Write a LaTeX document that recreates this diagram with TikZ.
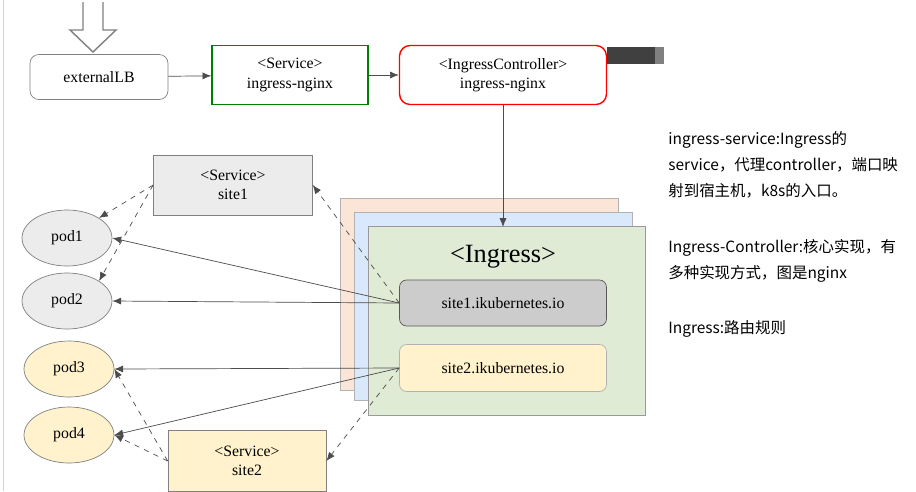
\documentclass[tikz,border=0pt]{standalone}
\usepackage{fontspec}
\newfontfamily\cjk{Noto Sans CJK SC}
\newfontfamily\ser{Liberation Serif}
\usetikzlibrary{arrows.meta,shapes.geometric}
\definecolor{ylw}{HTML}{FFF2CC}
\definecolor{lblue}{HTML}{DAE8FC}
\definecolor{lgreen}{HTML}{DFEBD5}
\definecolor{lorange}{HTML}{FBE5D6}
\begin{document}
\begin{tikzpicture}[x=0.02cm,y=-0.02cm,
  box/.style={draw=gray!70!black,font=\ser\fontsize{9}{11}\selectfont,align=center,inner sep=0},
  pod/.style={ellipse,draw=gray,minimum width=1.8cm,minimum height=1.12cm,font=\ser\fontsize{9}{11}\selectfont,inner sep=0},
  arr/.style={-{Latex[length=5pt,width=4pt]},draw=black!70},
  darr/.style={arr,dashed,draw=black!70}]
\useasboundingbox (0,0) rectangle (916,491);
\fill[white] (0,0) rectangle (916,491);
\draw[blue!20] (3,0)--(3,491);
% hollow arrow
\draw[gray,thick,fill=white] (83,2)--(83,30)--(70,30)--(93,52)--(116,30)--(103,30)--(103,2);
\node[box,rounded corners=5pt,minimum width=2.76cm,minimum height=0.9cm,draw=gray] (elb) at (99,77) {externalLB};
\node[box,draw=green!50!black,thick,minimum width=3.12cm,minimum height=1.18cm] (svc) at (290,75) {<Service>\\ingress-nginx};
\node[box,draw=red,thick,rounded corners=6pt,minimum width=4.14cm,minimum height=1.18cm] (ic) at (503,75) {<IngressController>\\ingress-nginx};
\fill[black!75] (607,47) rectangle (655,64);
\fill[gray] (655,47) rectangle (664,64);
\draw[arr] (elb) -- (svc);
\draw[arr] (svc) -- (ic);
% ingress stack
\draw[gray!60,fill=lorange] (340,198) rectangle (618,390);
\draw[gray!60,fill=lblue] (354,212) rectangle (632,400);
\draw[gray!80,fill=lgreen] (368,226) rectangle (645,415);
\coordinate (ingtop) at (503,227);
\draw[arr] (ic.south) -- (ingtop);
\node[font=\ser\fontsize{15}{17}\selectfont] (ing) at (503,257) {<Ingress>};
\node[box,rounded corners=4pt,fill=gray!40,minimum width=4.14cm,minimum height=0.92cm] (s1) at (503,303) {site1.ikubernetes.io};
\node[box,rounded corners=4pt,fill=ylw,draw=gray!60,minimum width=4.14cm,minimum height=0.94cm] (s2) at (503,368) {site2.ikubernetes.io};
\node[box,fill=gray!15,draw=gray,minimum width=3.18cm,minimum height=1.2cm] (ss1) at (233,185) {<Service>\\site1};
\node[box,fill=ylw,draw=gray,minimum width=3.16cm,minimum height=1.22cm] (ss2) at (247,461) {<Service>\\site2};
\node[pod,fill=gray!15] (p1) at (67,238) {pod1};
\node[pod,fill=gray!15] (p2) at (67,301) {pod2};
\node[pod,fill=ylw] (p3) at (69,369) {pod3};
\node[pod,fill=ylw] (p4) at (69,435) {pod4};
\draw[arr] (s1.west) -- (p1.east);
\draw[arr] (s1.west) -- (p2.east);
\draw[arr] (s2.west) -- (p3.east);
\draw[arr] (s2.west) -- (p4.east);
\draw[darr] (ss1.west) -- (p1.north east);
\draw[darr] (ss1.west) -- (p2.north east);
\draw[darr] (s1.west) -- (ss1.east);
\draw[darr] (ss2.west) -- (p3.east);
\draw[darr] (ss2.west) -- (p4.east);
\draw[darr] (s2.west) -- (ss2.east);
\node[anchor=north west,font=\cjk\fontsize{8.8}{14.9}\selectfont,align=left,inner sep=0] (txt) at (668,131)
{ingress-service:Ingress的\\service，代理controller，端口映\\射到宿主机，k8s的入口。\\[17pt]Ingress-Controller:核心实现，有\\多种实现方式，图是nginx\\[16pt]Ingress:路由规则};
\end{tikzpicture}
\end{document}
